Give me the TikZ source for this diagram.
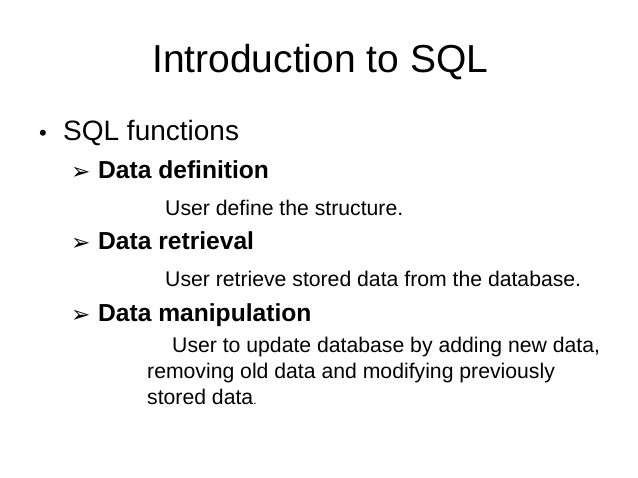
\documentclass[tikz,border=0pt]{standalone}
\usepackage{fontspec}
\setmainfont{Liberation Sans}
\newfontfamily\symfont{DejaVu Sans}
\tikzset{
	title/.style={anchor=base west,inner sep=0pt,font=\fontsize{39}{42}\selectfont},
	level one/.style={anchor=base west,inner sep=0pt,font=\fontsize{28}{32}\selectfont},
	level two/.style={anchor=base west,inner sep=0pt,font=\fontsize{24.6}{28}\selectfont\bfseries},
	body/.style={anchor=base west,inner sep=0pt,font=\fontsize{21.2}{26}\selectfont},
	arrow bullet/.style={anchor=base west,inner sep=0pt,font=\fontsize{23}{26}\symfont}
}
\begin{document}
\begin{tikzpicture}[x=1pt,y=-1pt]
		\useasboundingbox[fill=white] (0,0) rectangle (638,478);
		\node[title] (head) at (152,73) {Introduction to SQL};
		
		\node[level one,font=\fontsize{22}{24}\selectfont] (dot) at (39,141) {\textbullet};
		\node[level one] (sql) at (63,141) {SQL functions};
		
		\node[arrow bullet] (a1) at (71,180) {➢};
		\node[level two] (def) at (98,179) {Data definition};
		\node[body] (defText) at (165,216) {User define the structure.};
		
		\node[arrow bullet] (a2) at (71,251) {➢};
		\node[level two] (ret) at (98,250) {Data retrieval};
		\node[body] (retText) at (165,287) {User retrieve stored data from the database.};
		
		\node[arrow bullet] (a3) at (71,323) {➢};
		\node[level two] (man) at (98,322) {Data manipulation};
		\node[body] (manText1) at (172,353) {User to update database by adding new data,};
		\node[body] (manText2) at (147,379) {removing old data and modifying previously};
		\node[body] (manText3) at (147,405) {stored data{\fontsize{12}{14}\selectfont.}};
\end{tikzpicture}
\end{document}
